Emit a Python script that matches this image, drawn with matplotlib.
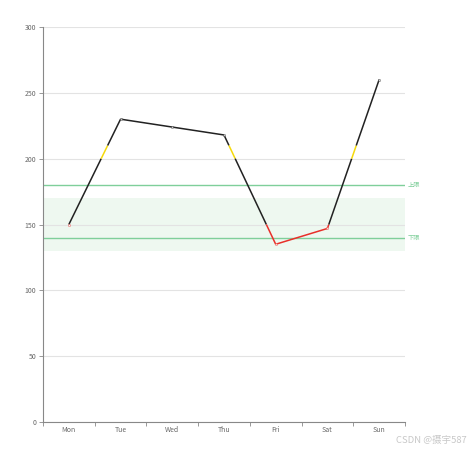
import matplotlib.pyplot as plt

plt.rcParams['font.family'] = ['Noto Sans CJK SC', 'DejaVu Sans']

days = ['Mon', 'Tue', 'Wed', 'Thu', 'Fri', 'Sat', 'Sun']
values = [150, 230, 224, 218, 135, 147, 260]

# visualMap pieces: (low, high, colour)
pieces = [(-1000, 150, '#e8302a'), (150, 200, '#222222'),
          (200, 210, '#f5d90a'), (210, 1000, '#222222')]
upper, lower = 180, 140
band = (130, 170)


def piece_color(v):
    if v <= 150:
        return pieces[0][2]
    for lo, hi, c in pieces:
        if lo <= v < hi:
            return c
    return '#222222'


def draw_segments(ax, xs, ys):
    cuts = sorted({lo for lo, _, _ in pieces[1:]})
    for i in range(len(xs) - 1):
        x0, y0, x1, y1 = xs[i], ys[i], xs[i + 1], ys[i + 1]
        ts = [0.0, 1.0]
        for c in cuts:
            if (y0 - c) * (y1 - c) < 0:
                ts.append((c - y0) / (y1 - y0))
        ts.sort()
        for a, b in zip(ts[:-1], ts[1:]):
            ya, yb = y0 + a * (y1 - y0), y0 + b * (y1 - y0)
            ax.plot([x0 + a * (x1 - x0), x0 + b * (x1 - x0)], [ya, yb],
                    color=piece_color((ya + yb) / 2), lw=1.1,
                    solid_capstyle='butt', zorder=3)


fig = plt.figure(figsize=(4.74, 4.5), dpi=100)
ax = fig.add_axes([0.0907, 0.0622, 0.7637, 0.8778])

xs = list(range(len(days)))
ax.axhspan(band[0], band[1], color='#eef8f0', zorder=0, lw=0)
draw_segments(ax, xs, values)
for x, v in zip(xs, values):
    ax.plot(x, v, 'o', ms=1.6, mfc='white', mec=piece_color(v), mew=0.4,
            alpha=0.7, zorder=4)

for v, lab in [(upper, '上限'), (lower, '下限')]:
    ax.axhline(v, color='#7fcf9a', lw=1, zorder=2)
    ax.text(1.008, v, lab, transform=ax.get_yaxis_transform(), color='#7fcf9a',
            fontsize=4.5, va='center', ha='left')

ax.set_xlim(-0.5, len(days) - 0.5)
ax.set_ylim(0, 300)
ax.set_yticks(range(0, 301, 50))
ax.grid(axis='y', color='#e3e3e3', lw=0.8, zorder=1)
ax.set_axisbelow(True)
ax.set_xticks(xs)
ax.set_xticklabels(days)
ax.set_xticks([x + 0.5 for x in range(-1, len(days))], minor=True)
ax.tick_params(axis='x', which='major', length=0, labelsize=5, colors='#666666', pad=3)
ax.tick_params(axis='x', which='minor', length=3, color='#888888', width=0.6)
ax.tick_params(axis='y', length=3, labelsize=5, colors='#666666', color='#888888', width=0.6, pad=2)
for s in ['top', 'right']:
    ax.spines[s].set_visible(False)
for s in ['left', 'bottom']:
    ax.spines[s].set_color('#888888')
    ax.spines[s].set_linewidth(0.8)

fig.text(0.985, 0.012, 'CSDN @摄宇587', ha='right', va='bottom',
         fontsize=6.8, color='#c8c8c8')

fig.savefig('out.png', dpi=100)
